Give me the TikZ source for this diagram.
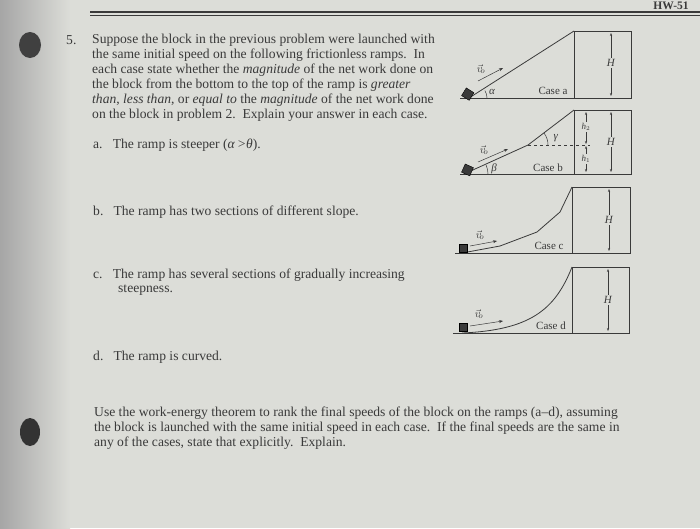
\documentclass[tikz,border=0pt]{standalone}
\usepackage{fontspec}
\setmainfont{Liberation Serif}
\usetikzlibrary{arrows.meta}
\definecolor{paper}{HTML}{DCDDD8}
\definecolor{ink}{HTML}{3A3A3A}
\begin{document}
\begin{tikzpicture}[x=1pt,y=-1pt,
  txt/.style={anchor=west,inner sep=0pt,text=ink,font=\fontsize{13.6}{15}\selectfont},
  lbl/.style={inner sep=0pt,text=ink,font=\fontsize{11}{12}\selectfont},
  ln/.style={draw=ink,line width=0.8pt},
  dim/.style={draw=ink,line width=0.5pt,{Stealth[length=3pt]}-{Stealth[length=3pt]}},
  vel/.style={draw=ink,line width=0.5pt,-{Stealth[length=4pt]}},
  blk/.style={draw=black,fill=ink,line width=0.4pt}]
\useasboundingbox (0,0) rectangle (700,528);
\fill[paper] (0,0) rectangle (700,528);
\shade[left color=gray!70,right color=paper] (0,0) rectangle (70,528);
\fill[black!75] (30,45) ellipse (11 and 13);
\fill[black!80] (30,432) ellipse (10 and 14);
% header
\draw[ink,line width=1.6pt] (90,12) -- (700,12);
\draw[ink,line width=0.6pt] (90,15) -- (700,15);
\node[lbl,font=\bfseries\fontsize{11.5}{12}\selectfont] (hw) at (671,6) {HW-51};
% problem text
\node[txt] (n5) at (66,40) {5.};
\node[txt] (l1) at (92,40) {Suppose the block in the previous problem were launched with};
\node[txt] (l2) at (92,55) {the same initial speed on the following frictionless ramps.\ \ In};
\node[txt] (l3) at (92,70) {each case state whether the \textit{magnitude} of the net work done on};
\node[txt] (l4) at (92,85) {the block from the bottom to the top of the ramp is \textit{greater}};
\node[txt] (l5) at (92,100) {\textit{than}, \textit{less than}, or \textit{equal to} the \textit{magnitude} of the net work done};
\node[txt] (l6) at (92,115) {on the block in problem 2.\ \ Explain your answer in each case.};
\node[txt] (ia) at (93,145) {a.\ \ \ The ramp is steeper (\textit{α\,>θ}).};
\node[txt] (ib) at (93,212) {b.\ \ \ The ramp has two sections of different slope.};
\node[txt] (ic) at (93,275) {c.\ \ \ The ramp has several sections of gradually increasing};
\node[txt] (ic2) at (118,290) {steepness.};
\node[txt] (id) at (93,357) {d.\ \ \ The ramp is curved.};
\node[txt] (p1) at (94,413) {Use the work-energy theorem to rank the final speeds of the block on the ramps (a–d), assuming};
\node[txt] (p2) at (94,428) {the block is launched with the same initial speed in each case.\ \ If the final speeds are the same in};
\node[txt] (p3) at (94,443) {any of the cases, state that explicitly.\ \ Explain.};
% Case a
\draw[ln] (460,98) -- (574,98) -- (574,31) -- (631,31) -- (631,98) -- (574,98);
\draw[ln] (469,98) -- (574,31);
\draw[blk,rotate around={-32:(466,96)}] (462,89) rectangle (471,98);
\draw[ink,line width=0.5pt] (487,98) arc[start angle=0,end angle=-32,radius=14];
\node[lbl] (al) at (492,92) {\textit{α}};
\draw[vel] (478,81) -- (503,68);
\node[lbl] (va) at (481,69) {$\vec{v}_{\!o}$};
\node[lbl] (ca) at (553,91) {Case a};
\draw[dim] (611,33) -- (611,96);
\node[lbl,fill=paper,inner sep=1pt] (ha) at (611,63) {\textit{H}};
% Case b
\draw[ln] (460,174) -- (574,174) -- (574,110) -- (631,110) -- (631,174) -- (574,174);
\draw[ln] (464,174) -- (528,145) -- (574,110);
\draw[blk,rotate around={-24:(466,172)}] (462,165) rectangle (471,174);
\draw[ink,line width=0.4pt,dashed] (528,145) -- (590,145);
\draw[ink,line width=0.5pt] (488,174) arc[start angle=0,end angle=-24,radius=22];
\node[lbl] (be) at (494,169) {\textit{β}};
\draw[ink,line width=0.5pt] (548,145) arc[start angle=0,end angle=-37,radius=20];
\node[lbl] (ga) at (556,138) {\textit{γ}};
\draw[vel] (478,162) -- (508,149);
\node[lbl] (vb) at (484,150) {$\vec{v}_{\!o}$};
\node[lbl] (cb) at (548,168) {Case b};
\draw[dim] (586,112) -- (586,144);
\draw[dim] (586,146) -- (586,172);
\node[lbl,fill=paper,inner sep=1pt,font=\fontsize{9}{10}\selectfont] (h2) at (586,127) {\textit{h}$_2$};
\node[lbl,fill=paper,inner sep=1pt,font=\fontsize{9}{10}\selectfont] (h1) at (586,159) {\textit{h}$_1$};
\draw[dim] (611,112) -- (611,172);
\node[lbl,fill=paper,inner sep=1pt] (hb) at (611,142) {\textit{H}};
% Case c
\draw[ln] (455,253) -- (572,253) -- (572,187) -- (630,187) -- (630,253) -- (572,253);
\draw[ln] (462,253) -- (500,246) -- (537,232) -- (560,212) -- (572,187);
\draw[blk] (459,244) rectangle (467,252);
\draw[vel] (470,246) -- (497,241);
\node[lbl] (vc) at (480,235) {$\vec{v}_{\!o}$};
\node[lbl] (cc) at (549,246) {Case c};
\draw[dim] (609,189) -- (609,251);
\node[lbl,fill=paper,inner sep=1pt] (hc) at (609,220) {\textit{H}};
% Case d
\draw[ln] (453,333) -- (572,333) -- (572,267) -- (629,267) -- (629,333) -- (572,333);
\draw[ln] (462,333) .. controls (530,330) and (555,310) .. (572,267);
\draw[blk] (459,323) rectangle (467,331);
\draw[vel] (470,326) -- (503,321);
\node[lbl] (vd) at (479,314) {$\vec{v}_{\!o}$};
\node[lbl] (cd) at (551,326) {Case d};
\draw[dim] (608,269) -- (608,331);
\node[lbl,fill=paper,inner sep=1pt] (hd) at (608,300) {\textit{H}};
\end{tikzpicture}
\end{document}
